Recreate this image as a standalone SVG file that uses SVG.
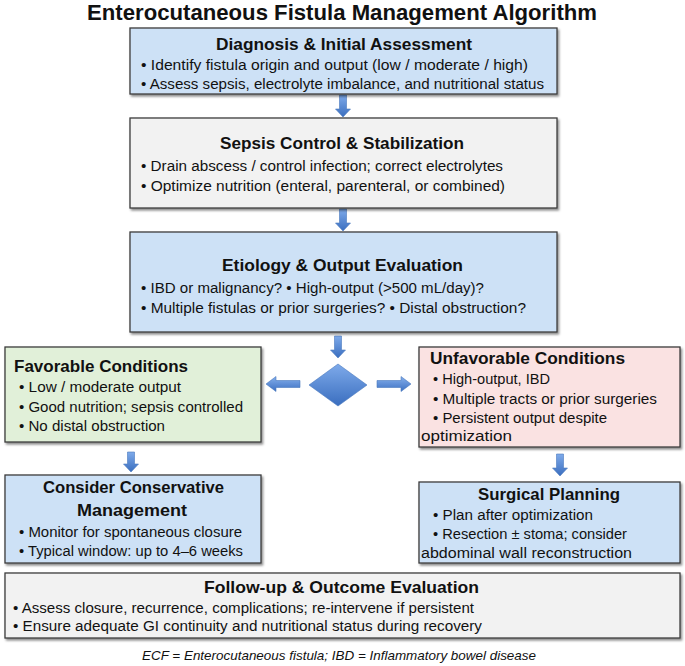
<svg xmlns="http://www.w3.org/2000/svg" width="685" height="666" viewBox="0 0 685 666">
<defs>
  <filter id="sh" x="-5%" y="-5%" width="110%" height="115%">
    <feDropShadow dx="1.5" dy="2" stdDeviation="1.3" flood-color="#000" flood-opacity="0.45"/>
  </filter>
  <linearGradient id="ag" x1="0" y1="0" x2="0" y2="1">
    <stop offset="0" stop-color="#7eaaea"/>
    <stop offset="1" stop-color="#3a6ebf"/>
  </linearGradient>
  <linearGradient id="agh" x1="0" y1="0" x2="0" y2="1">
    <stop offset="0" stop-color="#86b0ec"/>
    <stop offset="1" stop-color="#3c70c2"/>
  </linearGradient>
</defs>
<style>
  .box{stroke:#3c3c3c;stroke-width:1.3;filter:url(#sh)}
  .blue{fill:#cde1f6}
  .gray{fill:#f2f2f2}
  .green{fill:#e1f0d9}
  .pink{fill:#fae2e2}
  text{font-family:"Liberation Sans",Arial,sans-serif;fill:#111}
  .title{font-size:22.5px;font-weight:bold}
  .h{font-size:16.5px;font-weight:bold}
  .b{font-size:14px}
  .foot{font-size:13px;font-style:italic}
  .arr{fill:url(#ag);stroke:#4a78bd;stroke-width:0.6}
  .arrh{fill:url(#agh);stroke:#4a78bd;stroke-width:0.6}
</style>

<text class="title" x="87" y="20" textLength="510" lengthAdjust="spacingAndGlyphs">Enterocutaneous Fistula Management Algorithm</text>

<g id="connectors">
  <path class="arr" d="M339.5,95 L346.5,95 L346.5,109 L350.5,109 L343,117 L335.5,109 L339.5,109 Z"/>
  <path class="arr" d="M339.5,209 L346.5,209 L346.5,223 L350.5,223 L343,231 L335.5,223 L339.5,223 Z"/>
  <path class="arr" d="M334.5,336 L341.5,336 L341.5,350 L345.5,350 L338,358 L330.5,350 L334.5,350 Z"/>
  <path class="arrh" d="M300,380.5 L276,380.5 L276,376.5 L266,384 L276,391.5 L276,387.5 L300,387.5 Z"/>
  <path class="arrh" d="M377,380.5 L401,380.5 L401,376.5 L411,384 L401,391.5 L401,387.5 L377,387.5 Z"/>
  <path class="arr" d="M127.5,452 L134.5,452 L134.5,464 L138.5,464 L131,472 L123.5,464 L127.5,464 Z"/>
  <path class="arr" d="M556.5,454 L563.5,454 L563.5,468 L567.5,468 L560,476 L552.5,468 L556.5,468 Z"/>
</g>

<g id="decision">
  <path d="M309,385 L338,364 L367,385 L338,406 Z" fill="url(#ag)" stroke="#4a78bd" stroke-width="0.6"/>
</g>

<g id="diagnosis">
  <rect class="box blue" x="130" y="28" width="427" height="66"/>
  <text class="h" x="216" y="50" textLength="256" lengthAdjust="spacingAndGlyphs">Diagnosis &amp; Initial Assessment</text>
  <text class="b" x="141" y="70" textLength="387" lengthAdjust="spacingAndGlyphs">• Identify fistula origin and output (low / moderate / high)</text>
  <text class="b" x="141" y="89" textLength="403" lengthAdjust="spacingAndGlyphs">• Assess sepsis, electrolyte imbalance, and nutritional status</text>
</g>

<g id="sepsis">
  <rect class="box gray" x="130" y="118" width="427" height="90"/>
  <text class="h" x="220" y="149" textLength="244" lengthAdjust="spacingAndGlyphs">Sepsis Control &amp; Stabilization</text>
  <text class="b" x="141" y="171" textLength="362" lengthAdjust="spacingAndGlyphs">• Drain abscess / control infection; correct electrolytes</text>
  <text class="b" x="141" y="191" textLength="364" lengthAdjust="spacingAndGlyphs">• Optimize nutrition (enteral, parenteral, or combined)</text>
</g>

<g id="etiology">
  <rect class="box blue" x="130" y="232" width="427" height="100"/>
  <text class="h" x="222" y="271" textLength="241" lengthAdjust="spacingAndGlyphs">Etiology &amp; Output Evaluation</text>
  <text class="b" x="141" y="293" textLength="343" lengthAdjust="spacingAndGlyphs">• IBD or malignancy? • High-output (&gt;500 mL/day)?</text>
  <text class="b" x="141" y="313" textLength="385" lengthAdjust="spacingAndGlyphs">• Multiple fistulas or prior surgeries? • Distal obstruction?</text>
</g>

<g id="favorable">
  <rect class="box green" x="5" y="347" width="256" height="95"/>
  <text class="h" x="14" y="372" textLength="174" lengthAdjust="spacingAndGlyphs">Favorable Conditions</text>
  <text class="b" x="19" y="392" textLength="162" lengthAdjust="spacingAndGlyphs">• Low / moderate output</text>
  <text class="b" x="19" y="412" textLength="224" lengthAdjust="spacingAndGlyphs">• Good nutrition; sepsis controlled</text>
  <text class="b" x="19" y="431" textLength="146" lengthAdjust="spacingAndGlyphs">• No distal obstruction</text>
</g>

<g id="unfavorable">
  <rect class="box pink" x="419" y="347" width="261" height="100"/>
  <text class="h" x="430" y="364" textLength="195" lengthAdjust="spacingAndGlyphs">Unfavorable Conditions</text>
  <text class="b" x="433" y="384" textLength="117" lengthAdjust="spacingAndGlyphs">• High-output, IBD</text>
  <text class="b" x="433" y="404" textLength="224" lengthAdjust="spacingAndGlyphs">• Multiple tracts or prior surgeries</text>
  <text class="b" x="433" y="423" textLength="174" lengthAdjust="spacingAndGlyphs">• Persistent output despite</text>
  <text class="b" x="421" y="441" textLength="91" lengthAdjust="spacingAndGlyphs">optimization</text>
</g>

<g id="conservative">
  <rect class="box blue" x="5" y="475" width="256" height="88"/>
  <text class="h" x="43" y="493" textLength="181" lengthAdjust="spacingAndGlyphs">Consider Conservative</text>
  <text class="h" x="77" y="516" textLength="110" lengthAdjust="spacingAndGlyphs">Management</text>
  <text class="b" x="19" y="537" textLength="223" lengthAdjust="spacingAndGlyphs">• Monitor for spontaneous closure</text>
  <text class="b" x="19" y="556" textLength="224" lengthAdjust="spacingAndGlyphs">• Typical window: up to 4–6 weeks</text>
</g>

<g id="surgical">
  <rect class="box blue" x="419" y="482" width="261" height="81"/>
  <text class="h" x="478" y="500" textLength="142" lengthAdjust="spacingAndGlyphs">Surgical Planning</text>
  <text class="b" x="433" y="520" textLength="160" lengthAdjust="spacingAndGlyphs">• Plan after optimization</text>
  <text class="b" x="433" y="539" textLength="194" lengthAdjust="spacingAndGlyphs">• Resection ± stoma; consider</text>
  <text class="b" x="421" y="558" textLength="211" lengthAdjust="spacingAndGlyphs">abdominal wall reconstruction</text>
</g>

<g id="followup">
  <rect class="box gray" x="5" y="573" width="675" height="65"/>
  <text class="h" x="204" y="593" textLength="275" lengthAdjust="spacingAndGlyphs">Follow-up &amp; Outcome Evaluation</text>
  <text class="b" x="13" y="613" textLength="461" lengthAdjust="spacingAndGlyphs">• Assess closure, recurrence, complications; re-intervene if persistent</text>
  <text class="b" x="13" y="631" textLength="469" lengthAdjust="spacingAndGlyphs">• Ensure adequate GI continuity and nutritional status during recovery</text>
</g>

<text class="foot" x="142" y="660" textLength="394" lengthAdjust="spacingAndGlyphs">ECF = Enterocutaneous fistula; IBD = Inflammatory bowel disease</text>
</svg>
